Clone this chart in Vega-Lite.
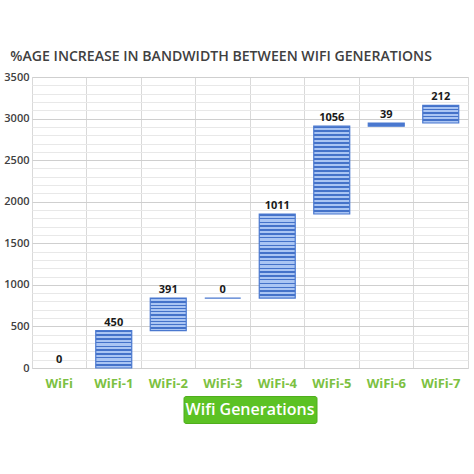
{
  "$schema": "https://vega.github.io/schema/vega-lite/v6.json",
  "padding": {"left": 3, "top": 50, "right": 6, "bottom": 5},
  "background": "white",
  "title": {
    "text": "%AGE INCREASE IN BANDWIDTH BETWEEN WIFI GENERATIONS",
    "anchor": "start",
    "font": "Open Sans",
    "fontSize": 14.1,
    "fontWeight": 600,
    "color": "#404040",
    "dx": 7,
    "offset": 6
  },
  "bounds": "flush",
  "center": true,
  "spacing": 28,
  "vconcat": [
    {
      "width": 436,
      "height": 291,
      "data": {
        "values": [
          {"gen": "WiFi", "start": 0, "end": 0, "value": 0},
          {"gen": "WiFi-1", "start": 0, "end": 450, "value": 450},
          {"gen": "WiFi-2", "start": 450, "end": 841, "value": 391},
          {"gen": "WiFi-3", "start": 841, "end": 841, "value": 0},
          {"gen": "WiFi-4", "start": 841, "end": 1852, "value": 1011},
          {"gen": "WiFi-5", "start": 1852, "end": 2908, "value": 1056},
          {"gen": "WiFi-6", "start": 2908, "end": 2947, "value": 39},
          {"gen": "WiFi-7", "start": 2947, "end": 3159, "value": 212}
        ]
      },
      "view": {"stroke": "#d9d9d9"},
      "resolve": {"axis": {"y": "independent"}},
      "encoding": {
        "x": {
          "field": "gen",
          "type": "nominal",
          "sort": null,
          "title": null,
          "scale": {"paddingInner": 0, "paddingOuter": 0},
          "axis": {
            "bandPosition": 0,
            "grid": true,
            "gridColor": "#d9d9d9",
            "ticks": false,
            "domain": false,
            "labelAngle": 0,
            "labelFont": "Open Sans",
            "labelFontSize": 13,
            "labelFontWeight": "bold",
            "labelColor": "#7cc142",
            "labelPadding": 9
          }
        }
      },
      "layer": [
        {
          "mark": {"type": "bar", "width": {"band": 0.66}, "strokeWidth": 1.2},
          "encoding": {
            "y": {
              "field": "start",
              "type": "quantitative",
              "title": null,
              "scale": {"domain": [0, 3500], "nice": false},
              "axis": {
                "orient": "left",
                "values": [0, 100, 200, 300, 400, 500, 600, 700, 800, 900, 1000, 1100, 1200, 1300, 1400, 1500, 1600, 1700, 1800, 1900, 2000, 2100, 2200, 2300, 2400, 2500, 2600, 2700, 2800, 2900, 3000, 3100, 3200, 3300, 3400, 3500],
                "labelExpr": "datum.value % 500 == 0 ? format(datum.value, 'd') : ''",
                "labelOverlap": false,
                "gridColor": {"condition": {"test": "datum.value % 500 == 0", "value": "#cfcfcf"}, "value": "#e8e8e8"},
                "ticks": false,
                "domain": false,
                "labelFont": "Open Sans",
                "labelFontSize": 11,
                "labelFontWeight": 600,
                "labelColor": "#404040",
                "labelPadding": 3
              }
            },
            "y2": {"field": "end"},
            "stroke": {
              "condition": {"test": "datum.gen === 'WiFi'", "value": null},
              "value": "#4a78cf"
            },
            "fill": {
              "condition": [
                {
                  "test": "datum.value > 900",
                  "value": {
                    "gradient": "linear", "x1": 0, "y1": 0, "x2": 0, "y2": 1,
                    "stops": [
                      {"offset": 0, "color": "#4472c9"}, {"offset": 0.018, "color": "#4472c9"}, {"offset": 0.018, "color": "#aac5f3"}, {"offset": 0.0455, "color": "#aac5f3"},
                      {"offset": 0.0455, "color": "#4472c9"}, {"offset": 0.0635, "color": "#4472c9"}, {"offset": 0.0635, "color": "#aac5f3"}, {"offset": 0.0909, "color": "#aac5f3"},
                      {"offset": 0.0909, "color": "#4472c9"}, {"offset": 0.109, "color": "#4472c9"}, {"offset": 0.109, "color": "#aac5f3"}, {"offset": 0.1364, "color": "#aac5f3"},
                      {"offset": 0.1364, "color": "#4472c9"}, {"offset": 0.1544, "color": "#4472c9"}, {"offset": 0.1544, "color": "#aac5f3"}, {"offset": 0.1818, "color": "#aac5f3"},
                      {"offset": 0.1818, "color": "#4472c9"}, {"offset": 0.1998, "color": "#4472c9"}, {"offset": 0.1998, "color": "#aac5f3"}, {"offset": 0.2273, "color": "#aac5f3"},
                      {"offset": 0.2273, "color": "#4472c9"}, {"offset": 0.2453, "color": "#4472c9"}, {"offset": 0.2453, "color": "#aac5f3"}, {"offset": 0.2727, "color": "#aac5f3"},
                      {"offset": 0.2727, "color": "#4472c9"}, {"offset": 0.2907, "color": "#4472c9"}, {"offset": 0.2907, "color": "#aac5f3"}, {"offset": 0.3182, "color": "#aac5f3"},
                      {"offset": 0.3182, "color": "#4472c9"}, {"offset": 0.3362, "color": "#4472c9"}, {"offset": 0.3362, "color": "#aac5f3"}, {"offset": 0.3636, "color": "#aac5f3"},
                      {"offset": 0.3636, "color": "#4472c9"}, {"offset": 0.3816, "color": "#4472c9"}, {"offset": 0.3816, "color": "#aac5f3"}, {"offset": 0.4091, "color": "#aac5f3"},
                      {"offset": 0.4091, "color": "#4472c9"}, {"offset": 0.4271, "color": "#4472c9"}, {"offset": 0.4271, "color": "#aac5f3"}, {"offset": 0.4545, "color": "#aac5f3"},
                      {"offset": 0.4545, "color": "#4472c9"}, {"offset": 0.4725, "color": "#4472c9"}, {"offset": 0.4725, "color": "#aac5f3"}, {"offset": 0.5, "color": "#aac5f3"},
                      {"offset": 0.5, "color": "#4472c9"}, {"offset": 0.518, "color": "#4472c9"}, {"offset": 0.518, "color": "#aac5f3"}, {"offset": 0.5455, "color": "#aac5f3"},
                      {"offset": 0.5455, "color": "#4472c9"}, {"offset": 0.5635, "color": "#4472c9"}, {"offset": 0.5635, "color": "#aac5f3"}, {"offset": 0.5909, "color": "#aac5f3"},
                      {"offset": 0.5909, "color": "#4472c9"}, {"offset": 0.6089, "color": "#4472c9"}, {"offset": 0.6089, "color": "#aac5f3"}, {"offset": 0.6364, "color": "#aac5f3"},
                      {"offset": 0.6364, "color": "#4472c9"}, {"offset": 0.6544, "color": "#4472c9"}, {"offset": 0.6544, "color": "#aac5f3"}, {"offset": 0.6818, "color": "#aac5f3"},
                      {"offset": 0.6818, "color": "#4472c9"}, {"offset": 0.6998, "color": "#4472c9"}, {"offset": 0.6998, "color": "#aac5f3"}, {"offset": 0.7273, "color": "#aac5f3"},
                      {"offset": 0.7273, "color": "#4472c9"}, {"offset": 0.7453, "color": "#4472c9"}, {"offset": 0.7453, "color": "#aac5f3"}, {"offset": 0.7727, "color": "#aac5f3"},
                      {"offset": 0.7727, "color": "#4472c9"}, {"offset": 0.7907, "color": "#4472c9"}, {"offset": 0.7907, "color": "#aac5f3"}, {"offset": 0.8182, "color": "#aac5f3"},
                      {"offset": 0.8182, "color": "#4472c9"}, {"offset": 0.8362, "color": "#4472c9"}, {"offset": 0.8362, "color": "#aac5f3"}, {"offset": 0.8636, "color": "#aac5f3"},
                      {"offset": 0.8636, "color": "#4472c9"}, {"offset": 0.8816, "color": "#4472c9"}, {"offset": 0.8816, "color": "#aac5f3"}, {"offset": 0.9091, "color": "#aac5f3"},
                      {"offset": 0.9091, "color": "#4472c9"}, {"offset": 0.9271, "color": "#4472c9"}, {"offset": 0.9271, "color": "#aac5f3"}, {"offset": 0.9545, "color": "#aac5f3"},
                      {"offset": 0.9545, "color": "#4472c9"}, {"offset": 0.9725, "color": "#4472c9"}, {"offset": 0.9725, "color": "#aac5f3"}, {"offset": 1, "color": "#aac5f3"}
                    ]
                  }
                },
                {
                  "test": "datum.value > 300",
                  "value": {
                    "gradient": "linear", "x1": 0, "y1": 0, "x2": 0, "y2": 1,
                    "stops": [
                      {"offset": 0, "color": "#4472c9"}, {"offset": 0.04, "color": "#4472c9"}, {"offset": 0.04, "color": "#aac5f3"}, {"offset": 0.1, "color": "#aac5f3"},
                      {"offset": 0.1, "color": "#4472c9"}, {"offset": 0.14, "color": "#4472c9"}, {"offset": 0.14, "color": "#aac5f3"}, {"offset": 0.2, "color": "#aac5f3"},
                      {"offset": 0.2, "color": "#4472c9"}, {"offset": 0.24, "color": "#4472c9"}, {"offset": 0.24, "color": "#aac5f3"}, {"offset": 0.3, "color": "#aac5f3"},
                      {"offset": 0.3, "color": "#4472c9"}, {"offset": 0.34, "color": "#4472c9"}, {"offset": 0.34, "color": "#aac5f3"}, {"offset": 0.4, "color": "#aac5f3"},
                      {"offset": 0.4, "color": "#4472c9"}, {"offset": 0.44, "color": "#4472c9"}, {"offset": 0.44, "color": "#aac5f3"}, {"offset": 0.5, "color": "#aac5f3"},
                      {"offset": 0.5, "color": "#4472c9"}, {"offset": 0.54, "color": "#4472c9"}, {"offset": 0.54, "color": "#aac5f3"}, {"offset": 0.6, "color": "#aac5f3"},
                      {"offset": 0.6, "color": "#4472c9"}, {"offset": 0.64, "color": "#4472c9"}, {"offset": 0.64, "color": "#aac5f3"}, {"offset": 0.7, "color": "#aac5f3"},
                      {"offset": 0.7, "color": "#4472c9"}, {"offset": 0.74, "color": "#4472c9"}, {"offset": 0.74, "color": "#aac5f3"}, {"offset": 0.8, "color": "#aac5f3"},
                      {"offset": 0.8, "color": "#4472c9"}, {"offset": 0.84, "color": "#4472c9"}, {"offset": 0.84, "color": "#aac5f3"}, {"offset": 0.9, "color": "#aac5f3"},
                      {"offset": 0.9, "color": "#4472c9"}, {"offset": 0.94, "color": "#4472c9"}, {"offset": 0.94, "color": "#aac5f3"}, {"offset": 1, "color": "#aac5f3"}
                    ]
                  }
                },
                {
                  "test": "datum.value > 100",
                  "value": {
                    "gradient": "linear", "x1": 0, "y1": 0, "x2": 0, "y2": 1,
                    "stops": [
                      {"offset": 0, "color": "#4472c9"}, {"offset": 0.08, "color": "#4472c9"}, {"offset": 0.08, "color": "#aac5f3"}, {"offset": 0.2, "color": "#aac5f3"},
                      {"offset": 0.2, "color": "#4472c9"}, {"offset": 0.28, "color": "#4472c9"}, {"offset": 0.28, "color": "#aac5f3"}, {"offset": 0.4, "color": "#aac5f3"},
                      {"offset": 0.4, "color": "#4472c9"}, {"offset": 0.48, "color": "#4472c9"}, {"offset": 0.48, "color": "#aac5f3"}, {"offset": 0.6, "color": "#aac5f3"},
                      {"offset": 0.6, "color": "#4472c9"}, {"offset": 0.68, "color": "#4472c9"}, {"offset": 0.68, "color": "#aac5f3"}, {"offset": 0.8, "color": "#aac5f3"},
                      {"offset": 0.8, "color": "#4472c9"}, {"offset": 0.88, "color": "#4472c9"}, {"offset": 0.88, "color": "#aac5f3"}, {"offset": 1, "color": "#aac5f3"}
                    ]
                  }
                }
              ],
              "value": "#4a78cf"
            }
          }
        },
        {
          "mark": {
            "type": "text",
            "baseline": "bottom",
            "dy": -3,
            "font": "Open Sans",
            "fontSize": 11,
            "fontWeight": "bold",
            "color": "#1a1a1a"
          },
          "encoding": {
            "y": {"field": "end", "type": "quantitative", "axis": null},
            "text": {"field": "value", "type": "quantitative"}
          }
        }
      ]
    },
    {
      "width": 133,
      "height": 27,
      "data": {"values": [{"label": "Wifi Generations"}]},
      "view": {"fill": "#5cc224", "stroke": "#4fae1c", "cornerRadius": 2},
      "mark": {
        "type": "text",
        "font": "Open Sans",
        "fontSize": 16,
        "fontWeight": 600,
        "color": "white"
      },
      "encoding": {
        "text": {"field": "label", "type": "nominal"}
      }
    }
  ]
}
